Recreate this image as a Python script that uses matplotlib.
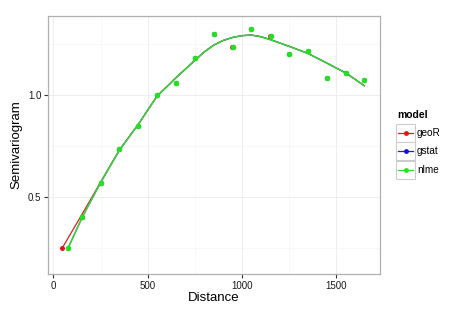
import matplotlib
matplotlib.use("Agg")
import matplotlib.pyplot as plt
from matplotlib.lines import Line2D
from matplotlib.patches import Rectangle

plt.rcParams['font.family'] = ['Liberation Sans', 'DejaVu Sans']

# empirical semivariogram points
dist_geor = [48, 150, 250, 350, 450, 550, 650, 750, 850, 950, 1050, 1150, 1250, 1350, 1450, 1555, 1650]
dist_nlme = [79, 153, 250, 350, 450, 550, 650, 750, 853, 951, 1051, 1152, 1251, 1351, 1450, 1555, 1650]
semi = [0.251, 0.401, 0.569, 0.738, 0.849, 1.001, 1.060, 1.181, 1.300, 1.236,
        1.326, 1.289, 1.202, 1.216, 1.084, 1.107, 1.075]

# fitted curves
fit_x_geor = [48, 150, 250, 350, 450, 550, 650, 750, 800, 850, 900, 950, 1000, 1050, 1100,
              1150, 1250, 1350, 1450, 1555, 1650]
fit_y_geor = [0.251, 0.412, 0.572, 0.730, 0.856, 0.995, 1.085, 1.170, 1.212, 1.245, 1.268,
              1.283, 1.292, 1.295, 1.287, 1.273, 1.240, 1.205, 1.158, 1.107, 1.046]
fit_x_nlme = [79, 153, 250, 350, 450, 550, 650, 750, 800, 850, 900, 950, 1000, 1050, 1100,
              1150, 1250, 1350, 1450, 1555, 1650]
fit_y_nlme = [0.251, 0.401, 0.570, 0.730, 0.856, 0.995, 1.085, 1.170, 1.212, 1.245, 1.268,
              1.283, 1.292, 1.295, 1.287, 1.273, 1.240, 1.205, 1.158, 1.107, 1.046]

models = ['geoR', 'gstat', 'nlme']
cols = {'geoR': '#ee1111', 'gstat': '#1111dd', 'nlme': '#22e022'}
line_cols = {'geoR': '#e02020', 'gstat': '#2222cc', 'nlme': '#3ad43a'}
lws = {'geoR': 0.9, 'gstat': 0.8, 'nlme': 1.15}
mss = {'geoR': 3.6, 'gstat': 3.4, 'nlme': 4.0}

fig = plt.figure(figsize=(4.74, 3.16), dpi=100)
ax = fig.add_axes([48.3/474, 1-274/316, (380-48.3)/474, (274-15.7)/316])

series = {
    'geoR': (dist_geor, semi, fit_x_geor, fit_y_geor),
    'gstat': (dist_nlme, semi, fit_x_nlme, fit_y_nlme),
    'nlme': (dist_nlme, semi, fit_x_nlme, fit_y_nlme),
}
for m in models:
    px, py, lx, ly = series[m]
    ax.plot(lx, ly, color=line_cols[m], lw=lws[m], zorder=3)
    ax.plot(px, py, 'o', color=cols[m], ms=mss[m], mec='none', zorder=4)

ax.set_xlim(-27, 1733)
ax.set_ylim(0.122, 1.39)
ax.set_xticks([0, 500, 1000, 1500])
ax.set_yticks([0.5, 1.0])
ax.set_yticklabels(['0.5', '1.0'])
ax.set_xticks([250, 750, 1250], minor=True)
ax.set_yticks([0.25, 0.75, 1.25], minor=True)
ax.grid(True, which='major', color='#ebebeb', lw=0.6)
ax.grid(True, which='minor', color='#f5f5f5', lw=0.5)
ax.set_axisbelow(True)
for s in ax.spines.values():
    s.set_color('#b0b0b0')
    s.set_linewidth(0.9)
ax.tick_params(which='major', length=3, width=0.8, color='#333333',
               labelsize=7, labelcolor='#1a1a1a', pad=2)
ax.tick_params(which='minor', length=0)
ax.set_xlabel('Distance', fontsize=9.5, labelpad=1)
ax.set_ylabel('Semivariogram', fontsize=9.5, labelpad=4)

# legend
fig.text(397/474, 1-115/316, 'model', fontsize=7.5, fontweight='bold', va='center')
for i, m in enumerate(models):
    yc = 1 - (132.7 + i*18.7)/316
    fig.patches.append(Rectangle((396/474, yc - 9/316), 19/474, 18/316,
                                 transform=fig.transFigure, fc='white',
                                 ec='#cccccc', lw=0.8))
    fig.lines.append(Line2D([398/474, 413/474], [yc, yc], transform=fig.transFigure,
                            color=line_cols[m], lw=0.9))
    fig.lines.append(Line2D([405.5/474], [yc], transform=fig.transFigure, marker='o',
                            color=cols[m], ms=3.5, mec='none'))
    fig.text(417/474, yc, m, fontsize=7.2, va='center')

fig.savefig('out.png', dpi=100)
